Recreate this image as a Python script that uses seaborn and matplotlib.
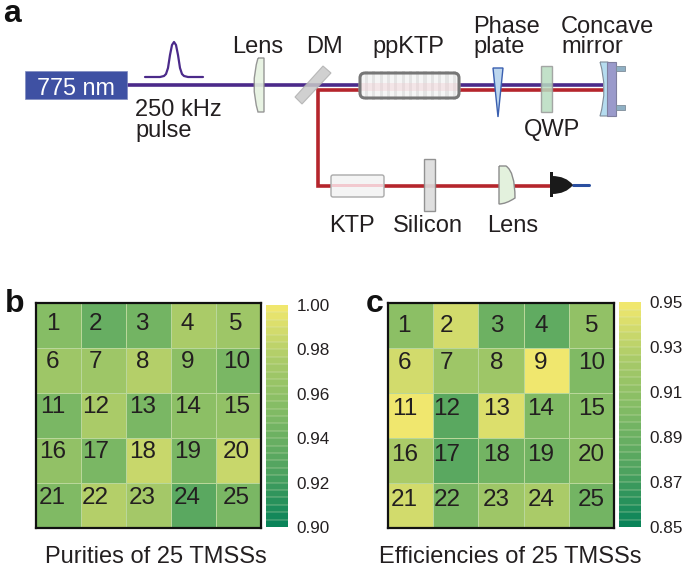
import numpy as np
import pandas as pd
import seaborn as sns
import matplotlib.pyplot as plt
from matplotlib.colors import LinearSegmentedColormap
from matplotlib.patches import Rectangle, Polygon, FancyBboxPatch, PathPatch
from matplotlib.path import Path

purities = [
    [0.956, 0.937, 0.945, 0.975, 0.968],
    [0.970, 0.970, 0.980, 0.958, 0.950],
    [0.948, 0.976, 0.948, 0.958, 0.962],
    [0.962, 0.950, 0.986, 0.948, 0.985],
    [0.952, 0.980, 0.972, 0.932, 0.948],
]
efficiencies = [
    [0.908, 0.937, 0.892, 0.886, 0.912],
    [0.937, 0.918, 0.918, 0.948, 0.900],
    [0.950, 0.880, 0.943, 0.900, 0.905],
    [0.925, 0.880, 0.896, 0.895, 0.908],
    [0.937, 0.897, 0.918, 0.925, 0.895],
]
cell_labels = [[str(5 * r + c + 1) for c in range(5)] for r in range(5)]
purity_ticks = [0.90, 0.92, 0.94, 0.96, 0.98, 1.00]
efficiency_ticks = [0.85, 0.87, 0.89, 0.91, 0.93, 0.95]

# pulse outline
pulse_x = [145, 160, 164, 166, 168, 170, 172, 174, 176, 178, 180, 182, 184, 188, 203]
pulse_y = [77, 77, 76, 74, 68, 55, 45, 42, 45, 55, 68, 74, 76, 77, 77]

sns.set_theme(style="white")
plt.rcParams['font.family'] = ['Liberation Sans', 'DejaVu Sans']
text_col = '#231f20'
cmap = LinearSegmentedColormap.from_list(
    'tmss', ['#0A8459', '#4FA35F', '#7DB964', '#A8CA68', '#F0E76E'], N=30)

W, H = 685, 569
fig = plt.figure(figsize=(W / 100, H / 100), dpi=100, facecolor='white')


def px_axes(x0, y0, x1, y1):
    return fig.add_axes([x0 / W, 1 - y1 / H, (x1 - x0) / W, (y1 - y0) / H])


def draw_heatmap(values, ticks, box, cbar_box, col_shift, row_shift):
    ax = px_axes(*box)
    cax = px_axes(*cbar_box)
    df = pd.DataFrame(values)
    sns.heatmap(df, ax=ax, cbar_ax=cax, cmap=cmap, vmin=ticks[0], vmax=ticks[-1],
                annot=np.array(cell_labels), fmt='',
                annot_kws={'fontsize': 17.5, 'color': text_col},
                linewidths=0.5, linecolor='#b9d79a', square=False,
                xticklabels=False, yticklabels=False,
                cbar_kws={'ticks': ticks, 'format': '%.2f',
                          'boundaries': np.linspace(ticks[0], ticks[-1], 31),
                          'drawedges': True})
    # numbers sit up and left of the cell centres in the original
    for t in ax.texts:
        x, y = t.get_position()
        t.set_position((x + col_shift[int(x)], y + row_shift[int(y)]))
    for s in ax.spines.values():
        s.set_visible(True)
        s.set_color('#111111')
        s.set_linewidth(1.6)
    cbar = ax.collections[0].colorbar
    cbar.outline.set_visible(False)
    cbar.dividers.set_color('#dfe9c4')
    cbar.dividers.set_linewidth(0.3)
    cax.tick_params(length=0, pad=6, labelsize=12.3, labelcolor=text_col)
    return ax


draw_heatmap(purities, purity_ticks, (36, 303, 261, 528), (266, 305, 288, 527),
             [-0.13, -0.18, -0.14, -0.13, -0.05], [-0.03, -0.2, -0.18, -0.18, -0.16])
draw_heatmap(efficiencies, efficiency_ticks, (388, 303, 614, 528), (619, 302, 641, 527),
             [-0.14, -0.2, -0.1, -0.12, 0.0], [0.0, -0.16, -0.14, -0.12, -0.12])

# schematic + every free text on an overlay in pixel coordinates
ov = fig.add_axes([0, 0, 1, 1], zorder=5)
ov.set_xlim(0, W)
ov.set_ylim(H, 0)
ov.axis('off')
ov.patch.set_alpha(0)

purple = '#4b2a8a'
red = '#b5252c'
edge = '#8c8c8c'

ov.plot([127, 603], [85, 85], color=purple, lw=2.6, solid_capstyle='butt', zorder=1)
ov.plot([603, 318, 318, 550], [89.5, 89.5, 185.5, 185.5], color=red, lw=2.6,
        solid_joinstyle='miter', zorder=1)
ov.plot(pulse_x, pulse_y, color=purple, lw=1.6, zorder=2)
ov.add_patch(Rectangle((25, 71), 102, 28, fc='#3f51a3', ec='#7f8bc0', lw=0.5, zorder=3))

# first lens, flat on the right
ov.add_patch(PathPatch(Path([(258, 58), (250, 85), (258, 112), (264, 112), (264, 58), (258, 58)],
                            [1, 3, 3, 2, 2, 2]),
                       fc='#e6f2e0', ec=edge, lw=1, alpha=0.9, zorder=3))
# dichroic mirror
ov.add_patch(Polygon([(323, 66), (331, 73), (302, 104), (295, 97)], fc='#c8c8c8', ec='#b0b0b0',
                     lw=0.8, alpha=0.85, zorder=3))

# ppKTP crystal
ov.add_patch(FancyBboxPatch((360, 73), 99, 25, boxstyle='round,pad=0,rounding_size=0.1',
                            fc='#f5f5f5', ec='none', zorder=3))
for sx in np.arange(365, 458, 7.3):
    ov.add_patch(Rectangle((sx, 71), 3.2, 29, fc='#e4e4e4', ec='none', zorder=3))
ov.add_patch(Rectangle((358, 83), 103, 8, fc='#f2c9cf', ec='none', alpha=0.35, zorder=3))
ov.add_patch(FancyBboxPatch((360, 73), 99, 25, boxstyle='round,pad=0,rounding_size=5',
                            fc='none', ec='#777777', lw=2.2, zorder=4))

# phase plate and QWP
ov.add_patch(Polygon([(493, 68), (503, 68), (498, 117)], fc='#bcd6ee', ec='#3a5fb0', lw=1, zorder=3))
ov.add_patch(Rectangle((541, 66), 11, 46, fc='#b8dcc0', ec='#999999', lw=1, alpha=0.85, zorder=3))

# concave mirror with its mount
ov.add_patch(PathPatch(Path([(600, 62), (608, 62), (608, 116), (600, 116), (608, 89), (600, 62)],
                            [1, 2, 2, 2, 3, 3]),
                       fc='#b5dcef', ec='#7f8c99', lw=0.8, zorder=3))
ov.add_patch(Rectangle((607, 62), 9, 54, fc='#9a9acb', ec='#7f7f9f', lw=0.8, zorder=3))
ov.add_patch(Rectangle((616, 66), 9, 5, fc='#8fb0c4', ec='#7f8c99', lw=0.6, zorder=3))
ov.add_patch(Rectangle((616, 105), 9, 5, fc='#8fb0c4', ec='#7f8c99', lw=0.6, zorder=3))

# lower arm
ov.add_patch(FancyBboxPatch((331, 175), 53, 22, boxstyle='round,pad=0,rounding_size=2',
                            fc='#f4f4f4', ec='#aaaaaa', lw=1, zorder=3))
ov.add_patch(Rectangle((332, 184), 51, 3, fc='#f2c9cf', ec='none', zorder=3))
ov.add_patch(Rectangle((424, 159), 11, 52, fc='#dcdcdc', ec='#888888', lw=1, alpha=0.9, zorder=3))
ov.add_patch(PathPatch(Path([(499, 166), (506, 166), (515, 172), (515, 198), (506, 204), (499, 204), (499, 166)],
                            [1, 2, 3, 3, 3, 2, 2]),
                       fc='#e3f1dd', ec=edge, lw=1, zorder=3))
# detector
ov.plot([573, 589], [185, 185], color='#2a4fa0', lw=2.2, zorder=2)
ov.add_patch(Rectangle((550, 172), 3, 25, fc='#1a1a1a', ec='none', zorder=3))
ov.add_patch(PathPatch(Path([(552, 176), (566, 176), (573, 185), (566, 194), (552, 194), (552, 176)],
                            [1, 3, 3, 3, 2, 2]),
                       fc='#1a1a1a', ec='none', zorder=3))

labels_center = [
    ('Lens', 258, 47), ('DM', 325, 47), ('ppKTP', 408, 47), ('QWP', 552, 130),
    ('KTP', 352, 226), ('Silicon', 428, 226), ('Lens', 513, 226),
]
labels_left = [
    ('250 kHz', 135, 110), ('pulse', 135, 131), ('Phase', 473, 27), ('plate', 473, 47),
    ('Concave', 561, 27), ('mirror', 561, 47),
]
for s, x, y in labels_center:
    ov.text(x, y, s, ha='center', va='center', fontsize=17, color=text_col)
for s, x, y in labels_left:
    ov.text(x, y, s, ha='left', va='center', fontsize=17, color=text_col)
ov.text(76, 88, '775 nm', ha='center', va='center', fontsize=16.8, color='white', zorder=6)

ov.text(156, 557, 'Purities of 25 TMSSs', ha='center', va='center', fontsize=17, color=text_col)
ov.text(510, 557, 'Efficiencies of 25 TMSSs', ha='center', va='center', fontsize=17, color=text_col)

for s, x, y in [('a', 3, 22), ('b', 5, 312), ('c', 366, 312)]:
    ov.text(x, y, s, ha='left', va='baseline', fontsize=23, fontweight='bold', color='#111111')

fig.savefig('out.png', dpi=100)
